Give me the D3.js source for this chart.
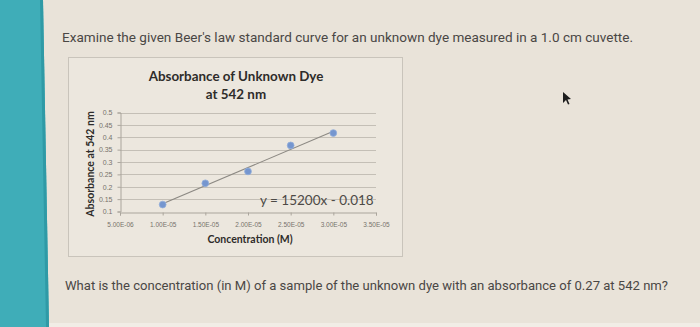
<!DOCTYPE html>
<html><head><meta charset="utf-8">
<script src="https://cdn.jsdelivr.net/npm/d3@7"></script>
<style>html,body{margin:0;padding:0;background:#e8e2d8;overflow:hidden}</style>
</head><body>
<svg id="c" width="700" height="327"></svg>
<script>
const concentrations = [1.0e-5, 1.5e-5, 2.0e-5, 2.5e-5, 3.0e-5];
const absorbances = [0.128, 0.214, 0.262, 0.367, 0.417];
const xTicks = [5e-6, 1e-5, 1.5e-5, 2e-5, 2.5e-5, 3e-5, 3.5e-5];
const xTickLabels = ["5.00E-06","1.00E-05","1.50E-05","2.00E-05","2.50E-05","3.00E-05","3.50E-05"];
const yTicks = [0.1, 0.15, 0.2, 0.25, 0.3, 0.35, 0.4, 0.45, 0.5];
const yTickLabels = ["0.1","0.15","0.2","0.25","0.3","0.35","0.4","0.45","0.5"];
const equationText = "y = 15200x - 0.018";
const questionTop = "Examine the given Beer's law standard curve for an unknown dye measured in a 1.0 cm cuvette.";
const questionBottom = "What is the concentration (in M) of a sample of the unknown dye with an absorbance of 0.27 at 542 nm?";

const svg = d3.select("#c");
svg.append("rect").attr("width",700).attr("height",327).attr("fill","#e9e3d9");
svg.append("rect").attr("x",0).attr("y",323).attr("width",700).attr("height",4).attr("fill","#f1ede6");
svg.append("path").attr("d","M0,0 L43,0 L49,327 L0,327 Z").attr("fill","#3fadb8");
svg.append("path").attr("d","M40,0 L43,0 L49,327 L46,327 Z").attr("fill","#2f9aa6");

svg.append("text").attr("x",62).attr("y",42).text(questionTop)
  .attr("font-family","Roboto").attr("font-size",13).attr("fill","#4a4745")
  .attr("textLength",571).attr("lengthAdjust","spacingAndGlyphs");
svg.append("text").attr("x",65).attr("y",290).text(questionBottom)
  .attr("font-family","Roboto").attr("font-size",13).attr("fill","#4a4745")
  .attr("textLength",603).attr("lengthAdjust","spacingAndGlyphs");

svg.append("rect").attr("x",68.5).attr("y",57.5).attr("width",334).attr("height",199)
  .attr("fill","#ece7de").attr("stroke","#c9c4bb").attr("stroke-width",1);

const x = d3.scaleLinear().domain([5e-6, 3.5e-5]).range([120, 376]);
const y = d3.scaleLinear().domain([0.1, 0.5]).range([211.5, 112.5]);

svg.append("g").selectAll("line").data(yTicks.slice(1)).join("line")
  .attr("x1",120).attr("x2",376).attr("y1",d=>Math.round(y(d))+0.5).attr("y2",d=>Math.round(y(d))+0.5)
  .attr("stroke","#c4bfb6").attr("stroke-width",1);

const xAxis = d3.axisBottom(x).tickValues(xTicks).tickFormat((d,i)=>xTickLabels[i]).tickSize(3).tickPadding(7);
const gx = svg.append("g").attr("transform",`translate(0,${Math.round(y(0.1))+0.5})`).call(xAxis);
gx.select(".domain").attr("stroke","#aaa59c");
gx.selectAll(".tick line").attr("stroke","#aaa59c");
gx.selectAll("text").attr("font-family","Liberation Sans Narrow, Liberation Sans, sans-serif").attr("font-size",6.5).attr("fill","#77736c");

const yAxis = d3.axisLeft(y).tickValues(yTicks).tickFormat((d,i)=>yTickLabels[i]).tickSize(3).tickPadding(5);
const gy = svg.append("g").attr("transform","translate(120.5,0)").call(yAxis);
gy.select(".domain").attr("stroke","#aaa59c");
gy.selectAll(".tick line").attr("stroke","#aaa59c");
gy.selectAll("text").attr("font-family","Liberation Sans Narrow, Liberation Sans, sans-serif").attr("font-size",7).attr("fill","#77736c");

// least squares trendline
const n = concentrations.length;
const mx = d3.mean(concentrations), my = d3.mean(absorbances);
let sxy=0, sxx=0;
for(let i=0;i<n;i++){ sxy += (concentrations[i]-mx)*(absorbances[i]-my); sxx += (concentrations[i]-mx)**2; }
const slope = sxy/sxx, intercept = my - slope*mx;
const x0 = d3.min(concentrations), x1 = d3.max(concentrations);
svg.append("line").attr("x1",x(x0)).attr("y1",y(slope*x0+intercept))
  .attr("x2",x(x1)).attr("y2",y(slope*x1+intercept))
  .attr("stroke","#8c8983").attr("stroke-width",1.1);

svg.append("g").selectAll("circle").data(concentrations).join("circle")
  .attr("cx",d=>x(d)).attr("cy",(d,i)=>y(absorbances[i])).attr("r",3.4)
  .attr("fill","#7596cf").attr("stroke","#93aedb").attr("stroke-width",0.8);

svg.append("text").attr("x",260).attr("y",205).text(equationText)
  .attr("font-family","Lato, Open Sans, sans-serif").attr("font-size",13.5).attr("fill","#4d4a46");

const tf = "Lato, Open Sans, sans-serif";
svg.append("text").attr("x",236).attr("y",81).attr("text-anchor","middle").text("Absorbance of Unknown Dye")
  .attr("font-family",tf).attr("font-weight","bold").attr("font-size",13.4).attr("fill","#2e2c2a");
svg.append("text").attr("x",236).attr("y",99).attr("text-anchor","middle").text("at 542 nm")
  .attr("font-family",tf).attr("font-weight","bold").attr("font-size",13.4).attr("fill","#2e2c2a");
svg.append("text").attr("transform","translate(94,164) rotate(-90)").attr("text-anchor","middle").text("Absorbance at 542 nm")
  .attr("font-family",tf).attr("font-weight","bold").attr("font-size",10.5).attr("fill","#2e2c2a");
svg.append("text").attr("x",250).attr("y",243).attr("text-anchor","middle").text("Concentration (M)")
  .attr("font-family",tf).attr("font-weight","bold").attr("font-size",10.5).attr("fill","#2e2c2a");

svg.append("path").attr("d","M563,92 L563,103 L566,100 L568,104.5 L569.5,104 L567.5,99.5 L571,99 Z")
  .attr("fill","#1e1e1e");
</script>
</body></html>
